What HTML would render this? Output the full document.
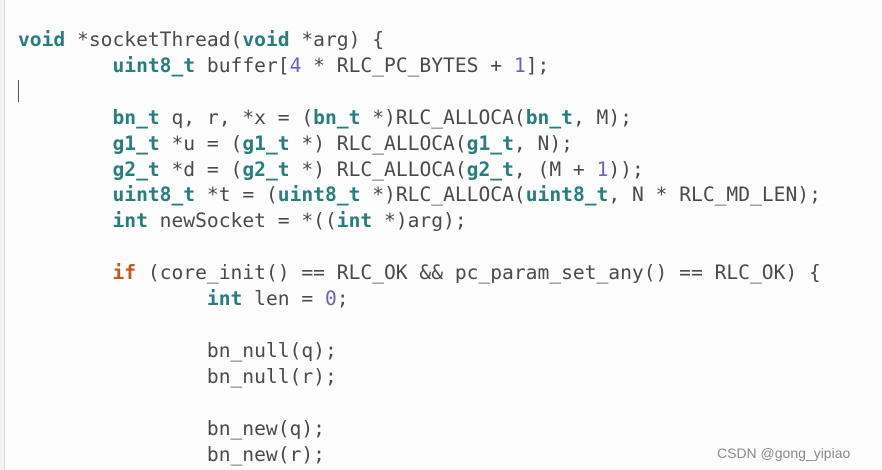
<!DOCTYPE html>
<html><head><meta charset="utf-8"><style>
html,body{margin:0;padding:0;width:882px;height:470px;overflow:hidden;background:#fdfdfd;}
.side{position:absolute;left:0;top:0;width:4px;height:470px;background:#f2f2f2;border-right:1px solid #ddd;}
pre{position:absolute;left:18px;top:27px;margin:0;font-family:"DejaVu Sans Mono","Liberation Mono",monospace;font-size:19.62px;line-height:25.9px;color:#4a4a4a;letter-spacing:0px;}
.k{color:#267f7f;font-weight:bold;}
.n{color:#6a62c4;}
.o{color:#c4561c;font-weight:bold;}
.cur{position:absolute;left:18px;top:80px;width:1px;height:22px;background:#555;}
.wm{position:absolute;left:717px;top:445px;font-family:"Liberation Sans",sans-serif;font-size:14px;color:#8a8a8a;}
</style></head><body>
<div class="side"></div>
<div class="cur"></div>
<pre><span class="k">void</span> *socketThread(<span class="k">void</span> *arg) {
        <span class="k">uint8_t</span> buffer[<span class="n">4</span> * RLC_PC_BYTES + <span class="n">1</span>];

        <span class="k">bn_t</span> q, r, *x = (<span class="k">bn_t</span> *)RLC_ALLOCA(<span class="k">bn_t</span>, M);
        <span class="k">g1_t</span> *u = (<span class="k">g1_t</span> *) RLC_ALLOCA(<span class="k">g1_t</span>, N);
        <span class="k">g2_t</span> *d = (<span class="k">g2_t</span> *) RLC_ALLOCA(<span class="k">g2_t</span>, (M + <span class="n">1</span>));
        <span class="k">uint8_t</span> *t = (<span class="k">uint8_t</span> *)RLC_ALLOCA(<span class="k">uint8_t</span>, N * RLC_MD_LEN);
        <span class="k">int</span> newSocket = *((<span class="k">int</span> *)arg);

        <span class="o">if</span> (core_init() == RLC_OK &amp;&amp; pc_param_set_any() == RLC_OK) {
                <span class="k">int</span> len = <span class="n">0</span>;

                bn_null(q);
                bn_null(r);

                bn_new(q);
                bn_new(r);</pre>
<div class="wm">CSDN @gong_yipiao</div>
</body></html>
